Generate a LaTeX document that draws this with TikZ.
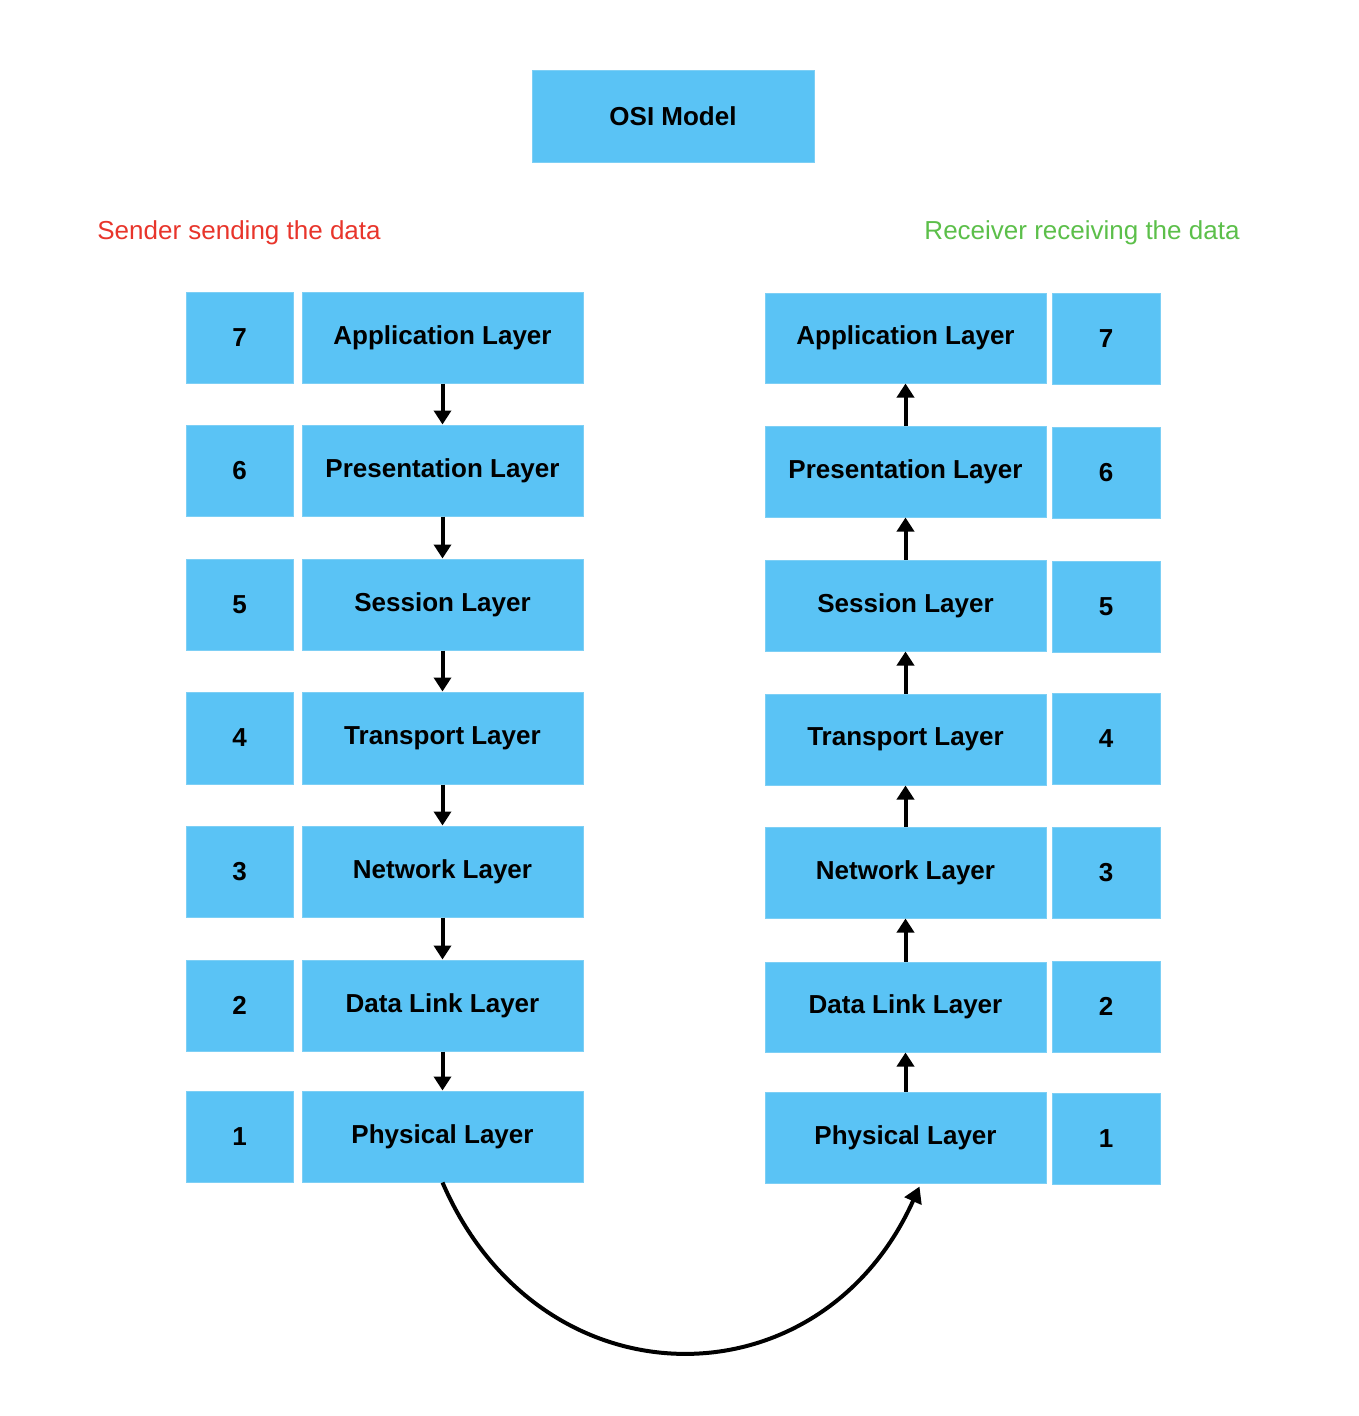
\documentclass[tikz,border=0pt]{standalone}
\usepackage{fontspec}
\setmainfont{Liberation Sans}
\usetikzlibrary{arrows.meta}
\definecolor{boxblue}{HTML}{5AC3F5}
\definecolor{boxedge}{HTML}{7DCFF5}
\definecolor{sred}{HTML}{E8352B}
\definecolor{rgreen}{HTML}{5CBF4A}
\begin{document}
\begin{tikzpicture}[x=1pt,y=-1pt,
  box/.style={draw=boxedge,line width=1pt,fill=boxblue,inner sep=0pt,font=\fontsize{26}{30}\selectfont\bfseries},
  arr/.style={line width=4pt,-{Triangle[length=14pt,width=17pt]}}]
\useasboundingbox (0,0) rectangle (1358,1416);
\newcommand\bx[6]{\node[box,minimum width=#4-#3,minimum height=#6-#5] (#1) at ({(#3+#4)/2},{(#5+#6)/2}) {#2};}
\bx{osi}{OSI Model}{532}{814}{70}{162}
\node[text=sred,font=\fontsize{26}{30}\selectfont] (snd) at (239,233) {Sender sending the data};
\node[text=rgreen,font=\fontsize{26}{30}\selectfont] (rcv) at (1082,233) {Receiver receiving the data};
% left
\bx{ln7}{7}{186}{293}{292}{383}\bx{l7}{Application Layer}{302}{583}{292}{383}
\bx{ln6}{6}{186}{293}{425}{516}\bx{l6}{Presentation Layer}{302}{583}{425}{516}
\bx{ln5}{5}{186}{293}{559}{650}\bx{l5}{Session Layer}{302}{583}{559}{650}
\bx{ln4}{4}{186}{293}{692}{784}\bx{l4}{Transport Layer}{302}{583}{692}{784}
\bx{ln3}{3}{186}{293}{826}{917}\bx{l3}{Network Layer}{302}{583}{826}{917}
\bx{ln2}{2}{186}{293}{960}{1051}\bx{l2}{Data Link Layer}{302}{583}{960}{1051}
\bx{ln1}{1}{186}{293}{1091}{1182}\bx{l1}{Physical Layer}{302}{583}{1091}{1182}
% right
\bx{r7}{Application Layer}{765}{1046}{293}{383}\bx{rn7}{7}{1052}{1160}{293}{384}
\bx{r6}{Presentation Layer}{765}{1046}{426}{517}\bx{rn6}{6}{1052}{1160}{427}{518}
\bx{r5}{Session Layer}{765}{1046}{560}{651}\bx{rn5}{5}{1052}{1160}{561}{652}
\bx{r4}{Transport Layer}{765}{1046}{694}{785}\bx{rn4}{4}{1052}{1160}{693}{784}
\bx{r3}{Network Layer}{765}{1046}{827}{918}\bx{rn3}{3}{1052}{1160}{827}{918}
\bx{r2}{Data Link Layer}{765}{1046}{962}{1052}\bx{rn2}{2}{1052}{1160}{961}{1052}
\bx{r1}{Physical Layer}{765}{1046}{1092}{1183}\bx{rn1}{1}{1052}{1160}{1093}{1184}
\foreach \a/\b in {7/6,6/5,5/4,4/3,3/2,2/1}{
  \draw[arr] (l\a.south) -- (l\b.north);
  \draw[arr] (r\b.north) -- (r\a.south);
}
\draw[line width=4pt,-{Triangle[length=16pt,width=18pt]}] (l1.south) .. controls (540,1408) and (820,1408) .. ([xshift=14pt,yshift=-3pt]r1.south);
\end{tikzpicture}
\end{document}
